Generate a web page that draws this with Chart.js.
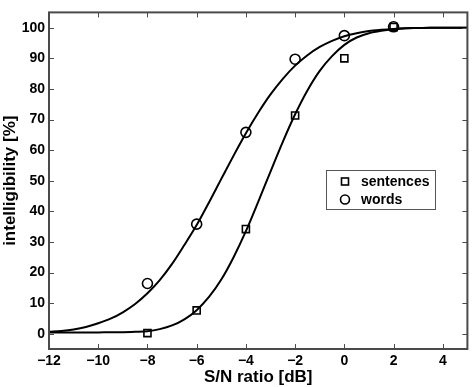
<!DOCTYPE html>
<html>
<head>
<meta charset="utf-8">
<script src="https://cdn.jsdelivr.net/npm/chart.js@4"></script>
<style>
  html, body { margin: 0; padding: 0; background: #fff; }
  canvas { display: block; }
</style>
</head>
<body>
<canvas id="intelChart" width="474" height="387"></canvas>
<script>
// measured points
const snrPoints = [-8, -6, -4, -2, 0, 2];
const sentences = [0.2, 7.6, 34.2, 71.3, 90.0, 100.2];
const words = [16.4, 35.8, 65.8, 89.7, 97.4, 100.3];

// fitted curves, every 0.5 dB
const fitX = [-12, -11.5, -11, -10.5, -10, -9.5, -9, -8.5, -8, -7.5, -7, -6.5, -6, -5.5, -5, -4.5, -4,
    -3.5, -3, -2.5, -2, -1.5, -1, -0.5, 0, 0.5, 1, 1.5, 2, 2.5, 3, 3.5, 4, 4.5, 5];
const sentencesFit = [0.4, 0.4, 0.4, 0.4, 0.4, 0.5, 0.5, 0.6, 0.8, 1.5, 2.7, 4.7, 7.7, 12.0, 17.7, 25.0, 33.5,
    43.1, 53.0, 62.7, 71.7, 79.5, 85.9, 90.7, 94.4, 96.8, 98.2, 99.0, 99.5, 99.8, 99.9, 100, 100, 100, 100];
const wordsFit = [0.6, 0.9, 1.4, 2.2, 3.4, 4.9, 7.0, 9.7, 13.2, 17.5, 22.8, 29.0, 35.5, 42.9, 50.6, 58.2, 65.5,
    72.2, 78.2, 83.3, 87.6, 91.0, 93.7, 95.7, 97.2, 98.2, 98.9, 99.3, 99.6, 99.8, 99.9, 100, 100, 100, 100];

// axis ticks
const xTicks = [-12, -10, -8, -6, -4, -2, 0, 2, 4];
const yTicks = [0, 10, 20, 30, 40, 50, 60, 70, 80, 90, 100];

const FONT = 'Liberation Sans, Arial, Helvetica, sans-serif';
const toXY = (xs, ys) => xs.map((x, i) => ({ x, y: ys[i] }));
const fmtTick = v => (v < 0 ? '\u2212' + Math.abs(v) : String(v));

// box frame with inward ticks on all four sides, plus the boxed legend
const framePlugin = {
    id: 'frame',
    afterDraw(chart) {
        const { ctx, chartArea: a, scales } = chart;
        ctx.save();
        ctx.strokeStyle = '#4a4a4a';
        ctx.lineWidth = 2;
        ctx.strokeRect(a.left, a.top, a.right - a.left, a.bottom - a.top);

        ctx.lineWidth = 1;
        ctx.beginPath();
        xTicks.forEach(v => {
            const px = Math.round(scales.x.getPixelForValue(v)) + 0.5;
            ctx.moveTo(px, a.bottom); ctx.lineTo(px, a.bottom - 5);
            ctx.moveTo(px, a.top); ctx.lineTo(px, a.top + 5);
        });
        yTicks.forEach(v => {
            const py = Math.round(scales.y.getPixelForValue(v)) + 0.5;
            ctx.moveTo(a.left, py); ctx.lineTo(a.left + 5, py);
            ctx.moveTo(a.right, py); ctx.lineTo(a.right - 5, py);
        });
        ctx.stroke();

        // legend
        const lx = 326.5, ly = 170.5, lw = 109, lh = 39;
        ctx.fillStyle = '#fff';
        ctx.fillRect(lx, ly, lw, lh);
        ctx.strokeStyle = '#555';
        ctx.strokeRect(lx, ly, lw, lh);

        ctx.strokeStyle = '#000';
        ctx.lineWidth = 1.6;
        ctx.strokeRect(341.5, 178, 7, 7);
        ctx.beginPath();
        ctx.arc(345, 199.5, 4.5, 0, Math.PI * 2);
        ctx.stroke();

        ctx.fillStyle = '#000';
        ctx.font = 'bold 14px ' + FONT;
        ctx.textBaseline = 'middle';
        ctx.fillText(chart.data.datasets[0].label, 361, 182);
        ctx.fillText(chart.data.datasets[1].label, 361, 200);
        ctx.restore();
    }
};

new Chart(document.getElementById('intelChart'), {
    type: 'scatter',
    data: {
        datasets: [
            {
                label: 'sentences',
                data: toXY(snrPoints, sentences),
                pointStyle: 'rect',
                pointRadius: 5,
                borderColor: '#000',
                backgroundColor: 'rgba(0,0,0,0)',
                borderWidth: 1.6,
            },
            {
                label: 'words',
                data: toXY(snrPoints, words),
                pointStyle: 'circle',
                pointRadius: 5,
                borderColor: '#000',
                backgroundColor: 'rgba(0,0,0,0)',
                borderWidth: 1.6,
            },
            {
                label: 'sentences fit',
                data: toXY(fitX, sentencesFit),
                showLine: true,
                pointRadius: 0,
                borderColor: '#000',
                borderWidth: 2,
                cubicInterpolationMode: 'monotone',
            },
            {
                label: 'words fit',
                data: toXY(fitX, wordsFit),
                showLine: true,
                pointRadius: 0,
                borderColor: '#000',
                borderWidth: 2,
                cubicInterpolationMode: 'monotone',
            },
        ]
    },
    options: {
        responsive: false,
        animation: false,
        layout: { padding: { top: 1, right: 3, left: 0, bottom: 0 } },
        plugins: {
            legend: { display: false },
            tooltip: { enabled: false },
        },
        scales: {
            x: {
                type: 'linear',
                min: -12,
                max: 5,
                afterBuildTicks: s => { s.ticks = xTicks.map(v => ({ value: v })); },
                afterFit: s => { s.height = 38; },
                grid: { display: false, drawTicks: false },
                border: { display: false },
                ticks: {
                    padding: 4,
                    maxRotation: 0,
                    color: '#000',
                    font: { family: FONT, size: 14, weight: 'bold' },
                    callback: fmtTick,
                },
                title: {
                    display: true,
                    text: 'S/N ratio [dB]',
                    color: '#000',
                    padding: { top: 0, bottom: -1 },
                    font: { family: FONT, size: 17, weight: 'bold' },
                },
            },
            y: {
                type: 'linear',
                min: -5,
                max: 105,
                afterBuildTicks: s => { s.ticks = yTicks.map(v => ({ value: v })); },
                afterFit: s => { s.width = 49; },
                grid: { display: false, drawTicks: false },
                border: { display: false },
                ticks: {
                    padding: 4,
                    color: '#000',
                    font: { family: FONT, size: 14, weight: 'bold' },
                    callback: fmtTick,
                },
                title: {
                    display: true,
                    text: 'intelligibility [%]',
                    color: '#000',
                    padding: 0,
                    font: { family: FONT, size: 17, weight: 'bold' },
                },
            },
        },
    },
    plugins: [framePlugin],
});
</script>
</body>
</html>
